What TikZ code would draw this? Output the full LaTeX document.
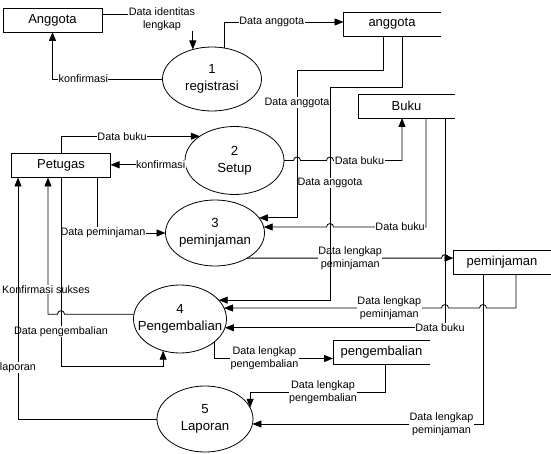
\documentclass[tikz,border=0pt]{standalone}
\usepackage{fontspec}
\setmainfont{Liberation Sans}
\usepackage{tikz}
\usetikzlibrary{arrows.meta,shapes,positioning}
\tikzstyle{arrow} = [line width=0.8pt, -{Triangle[length=9pt,width=7pt]}]
\tikzstyle{entity} = [rectangle, draw, line width=0.8pt, outer sep=0pt, minimum width=99pt, minimum height=24pt, font=\fontsize{13}{15}\selectfont]
\tikzstyle{datastore} = [rectangle, outer sep=0pt, minimum width=97pt, minimum height=24pt, font=\fontsize{13}{15}\selectfont]
\tikzstyle{process} = [ellipse, draw, line width=0.8pt, outer sep=0pt, minimum width=99pt, minimum height=66pt, inner xsep=-15pt, inner ysep=0pt, align=center, font=\fontsize{13.2}{17}\selectfont]
\tikzstyle{flowlabel} = [fill=white, inner sep=0.5pt, align=center, font=\fontsize{10.8}{13}\selectfont]

\begin{document}
\begin{tikzpicture}[x=1pt,y=1pt]
\useasboundingbox (0,0) rectangle (551,-454);
% Entities and data stores
\node (Anggota) [entity] at (52.5,-20) {Anggota};
\node (Petugas) [entity] at (61,-165.5) {Petugas};
\node (sAnggota) [datastore] at (392,-24) {anggota};
\node (sBuku) [datastore] at (406.5,-106) {Buku};
\node (sPinjam) [datastore] at (502,-262) {peminjaman};
\node (sKembali) [datastore] at (381.5,-352.5) {pengembalian};
\foreach \s in {sAnggota,sBuku,sPinjam,sKembali}
  \draw[line width=0.8pt] (\s.north east) -- (\s.north west) -- (\s.south west) -- (\s.south east);

% Processes
\node (P1) [process, minimum height=64pt] at (212,-79) {1\\registrasi};
\node (P2) [process, minimum height=68pt] at (234.5,-160.5) {2\\Setup};
\node (P3) [process] at (215,-233) {3\\peminjaman};
\node (P4) [process, minimum width=93pt, minimum height=68pt] at (180,-319) {4\\Pengembalian};
\node (P5) [process, minimum width=96pt] at (205,-419) {5\\Laporan};

% Registrasi
\draw[arrow] ([yshift=6pt]Anggota.east) -| node[flowlabel, pos=0.33, yshift=-5pt] {Data identitas\\lengkap} (P1.123);
\draw[arrow] (P1.west) -| node[flowlabel, pos=0.36] {konfirmasi} (Anggota.south);
\draw[arrow] (P1.69) |- node[flowlabel, pos=0.7] {Data anggota} ([yshift=2pt]sAnggota.west);

% Setup
\draw[arrow] (Petugas.north) |- node[flowlabel, pos=0.72] {Data buku} (P2.145);
\draw[arrow] (P2.185) -- node[flowlabel, pos=0.33] {konfirmasi} (Petugas.east |- P2.185);
\draw[arrow] (P2.east) -- ++(9.5,0) arc[start angle=180,end angle=0,radius=3.5pt] -- ++(26,0) arc[start angle=180,end angle=0,radius=3.5pt] -| node[flowlabel, pos=0.19] {Data buku} ([xshift=-4.5pt]sBuku.south);

% Peminjaman
\draw[arrow] ([xshift=36pt]Petugas.south) |- node[flowlabel, pos=0.5, xshift=6pt] {Data peminjaman} (P3.west);
\draw[arrow] (P3.322) -- node[flowlabel, pos=0.53] {Data lengkap\\peminjaman} ++(194.4,0) arc[start angle=180,end angle=0,radius=3.5pt] -- (sPinjam.west |- P3.322);
\draw[arrow] ([xshift=10pt]sAnggota.south) -- ++(0,-51) -- ++(-72,0) |- node[flowlabel, pos=0.225] {Data anggota} (P4.26);
\draw[arrow] ([xshift=-9pt]sAnggota.south) -- ++(0,-34) -- ++(-86,0) |- node[flowlabel, pos=0.111] {Data anggota} (P3.19);
\draw[arrow] ([xshift=19.5pt]sBuku.south) -- ++(0,-109) -- node[flowlabel, pos=0.28] {Data buku} ++(-92.5,0) arc[start angle=0,end angle=180,radius=3.5pt] -- (P3.7);

% Pengembalian
\draw[arrow] ([xshift=38.5pt]sBuku.south) |- node[flowlabel, pos=0.5, xshift=-5pt] {Data buku} (P4.349);
\draw[arrow] ([xshift=14pt]sPinjam.south) -- ++(0,-34) -- ++(-29.5,0) arc[start angle=0,end angle=180,radius=3.5pt] -- ++(-31,0) arc[start angle=0,end angle=180,radius=3.5pt] -- node[flowlabel, pos=0.24] {Data lengkap\\peminjaman} (P4.14);
\draw[arrow] (P4.327) |- node[flowlabel, pos=0.71] {Data lengkap\\pengembalian} ([yshift=-6pt]sKembali.west);

% Laporan
\draw[arrow] ([xshift=3.5pt]sKembali.south) -- ++(0,-28) -| node[flowlabel, pos=0.23] {Data lengkap\\pengembalian} (P5.14);
\draw[arrow] ([xshift=-19pt]sPinjam.south) |- node[flowlabel, pos=0.59] {Data lengkap\\peminjaman} (P5.354);

% Back to Petugas
\draw[arrow] (P4.174) -- ([xshift=3.5pt]Petugas.south |- P4.174) arc[start angle=0,end angle=180,radius=3.5pt] -| node[flowlabel, pos=0.59, xshift=-2pt] {Konfirmasi sukses} ([xshift=-13pt]Petugas.south);
\draw[arrow] (Petugas.south) -- node[flowlabel, pos=0.815] {Data pengembalian} ++(0,-189) -| (P4.242);
\draw[arrow] (P5.west) -| node[flowlabel, pos=0.606] {laporan} ([xshift=-43pt]Petugas.south);
\end{tikzpicture}
\end{document}
